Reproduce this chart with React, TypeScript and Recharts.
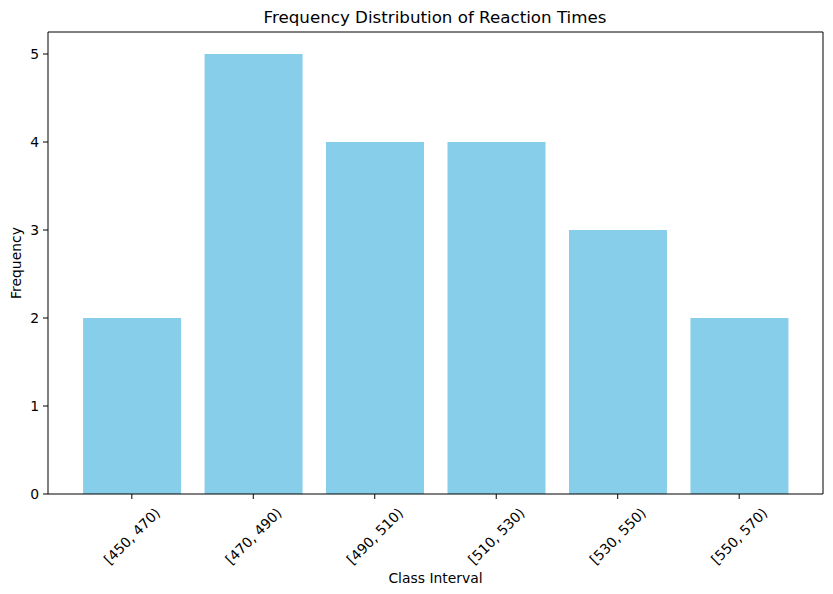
import React from "react";
import { Bar, BarChart, XAxis, YAxis } from "recharts";

const intervals = ["[450, 470)", "[470, 490)", "[490, 510)", "[510, 530)", "[530, 550)", "[550, 570)"];
const frequencies = [2, 5, 4, 4, 3, 2];
const yTicks = [0, 1, 2, 3, 4, 5];

const data = intervals.map((label, i) => ({ idx: i, label, freq: frequencies[i] }));

const FONT = "DejaVu Sans, sans-serif";

const RotatedTick = (props: any) => {
  const { x, y, payload } = props;
  return (
    <g transform={`translate(${x},${y + 35}) rotate(-45)`}>
      <text textAnchor="middle" dominantBaseline="central" fontSize={13.9} fill="#000" fontFamily={FONT}>
        {intervals[payload.value]}
      </text>
    </g>
  );
};

export default function App() {
  return (
    <div style={{ position: "absolute", left: 0, top: 0, width: 833, height: 594, background: "#fff" }}>
      <BarChart
        width={833}
        height={594}
        data={data}
        margin={{ top: 32, right: 10, bottom: 0, left: 0 }}
        barSize={98}
      >
        <text x={435} y={17} textAnchor="middle" dominantBaseline="central" fontSize={16.7} fontFamily={FONT} fill="#000">
          Frequency Distribution of Reaction Times
        </text>
        <XAxis
          dataKey="idx"
          type="number"
          domain={[-0.69, 5.69]}
          ticks={yTicks}
          interval={0}
          height={100}
          tick={<RotatedTick />}
          tickSize={5}
          stroke="#000"
          allowDataOverflow
          label={{ value: "Class Interval", position: "insideBottom", offset: 11, fontSize: 13.9, fill: "#000", fontFamily: FONT }}
        />
        <YAxis
          type="number"
          domain={[0, 5.25]}
          ticks={yTicks}
          width={48}
          tickSize={5}
          tickMargin={4}
          stroke="#000"
          allowDataOverflow
          tick={{ fontSize: 13.9, fill: "#000", fontFamily: FONT }}
          label={{ value: "Frequency", angle: -90, position: "insideLeft", offset: 16, fontSize: 13.9, fill: "#000", fontFamily: FONT, style: { textAnchor: "middle" } }}
        />
        <Bar dataKey="freq" fill="#87CEEB" isAnimationActive={false} />
        <line x1={48} y1={32} x2={823} y2={32} stroke="#000" />
        <line x1={823} y1={32} x2={823} y2={494} stroke="#000" />
      </BarChart>
    </div>
  );
}
